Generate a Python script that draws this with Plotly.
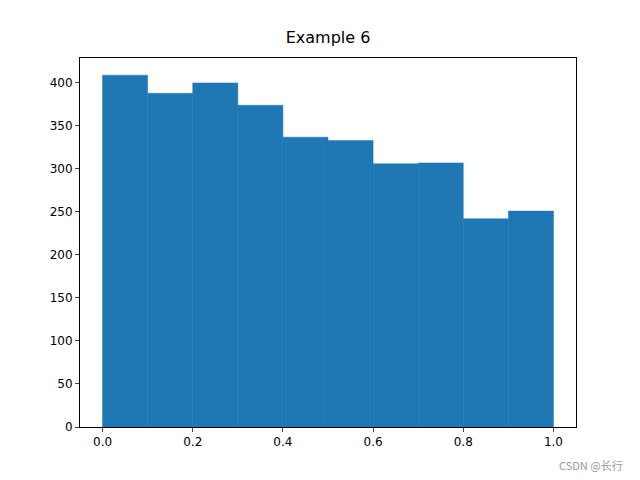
import plotly.graph_objects as go

bin_edges = [0.0, 0.1, 0.2, 0.3, 0.4, 0.5, 0.6, 0.7, 0.8, 0.9, 1.0]
counts = [409, 388, 400, 374, 337, 333, 306, 307, 242, 251]
x_ticks = [0.0, 0.2, 0.4, 0.6, 0.8, 1.0]
y_ticks = [0, 50, 100, 150, 200, 250, 300, 350, 400]

centers = [(a + b) / 2 for a, b in zip(bin_edges[:-1], bin_edges[1:])]

fig = go.Figure(go.Bar(x=centers, y=counts, width=0.1, marker_color="#1f77b4",
                       marker_line=dict(width=0.5, color="#1f77b4")))

axis_style = dict(showline=True, linecolor="black", linewidth=1, mirror=True,
                  ticks="outside", ticklen=4, showgrid=False, zeroline=False,
                  tickfont=dict(size=12, color="black"))

# page body adds ~8px offset, so margins are shifted to compensate
fig.update_layout(
    width=640, height=480,
    plot_bgcolor="white", paper_bgcolor="white",
    font=dict(family="DejaVu Sans"),
    margin=dict(l=72, r=72, t=50, b=61),
    title=dict(text="Example 6", x=0.5, xanchor="center", y=0.95,
               font=dict(size=16, color="black")),
    xaxis=dict(range=[-0.05, 1.05], tickvals=x_ticks,
               ticktext=[f"{v:.1f}" for v in x_ticks], **axis_style),
    yaxis=dict(range=[0, 429], tickvals=y_ticks, **axis_style),
    showlegend=False,
    annotations=[dict(text="CSDN @长行", xref="paper", yref="paper",
                      x=1.099, y=-0.103, xanchor="right", yanchor="middle",
                      showarrow=False,
                      font=dict(size=11, color="#999999",
                                family="Noto Sans CJK SC"))],
)

fig.write_html("out.html")
